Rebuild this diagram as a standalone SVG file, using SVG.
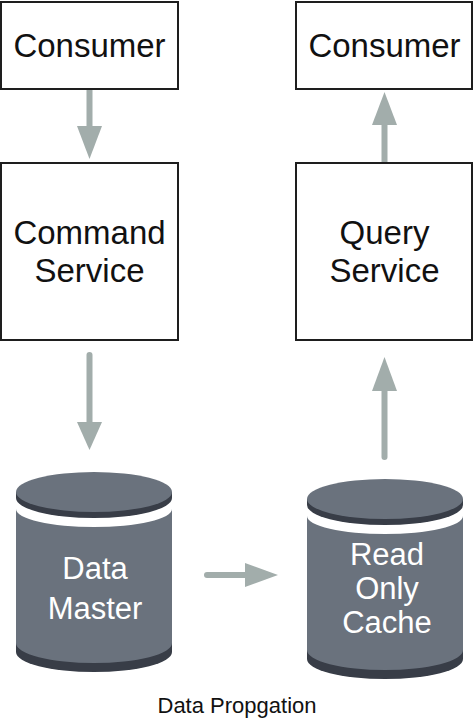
<svg xmlns="http://www.w3.org/2000/svg" xmlns:xlink="http://www.w3.org/1999/xlink" width="474" height="720" viewBox="0 0 474 720">
<style>
.box{fill:#fff;stroke:#1e1e1e;stroke-width:2}
.lbl{font-family:"Liberation Sans",Arial,sans-serif;font-size:33px;fill:#111;text-anchor:middle}
.dbl{font-family:"Liberation Sans",Arial,sans-serif;font-size:31px;fill:#fff;text-anchor:middle}
.cap{font-family:"Liberation Sans",Arial,sans-serif;font-size:22px;fill:#111;text-anchor:middle}
.shaft{stroke:#a2adab;stroke-width:6;stroke-linecap:round;fill:none}
.head{fill:#a2adab}
.light{fill:#6a727d}
.dark{fill:#383d47}
</style>
<defs>
<g id="cyl">
<ellipse class="dark" cx="78" cy="26" rx="78" ry="20"/>
<rect class="dark" x="0" y="20" width="156" height="6"/>
<ellipse class="light" cx="78" cy="20" rx="78" ry="20"/>
<rect class="dark" x="0" y="140" width="156" height="40"/>
<ellipse class="dark" cx="78" cy="180" rx="78" ry="20"/>
<path class="light" d="M0,37 A78,18 0 0 0 156,37 L156,171 A78,20 0 0 1 0,171 Z"/>
</g>
</defs>
<g id="connectors">
<line class="shaft" x1="89.5" y1="90" x2="89.5" y2="128"/>
<polygon class="head" points="77,126 102,126 89.5,159"/>
<line class="shaft" x1="89.5" y1="355" x2="89.5" y2="424"/>
<polygon class="head" points="77,422 102,422 89.5,450"/>
<line class="shaft" x1="384.5" y1="164" x2="384.5" y2="123"/>
<polygon class="head" points="372,125 397,125 384.5,92"/>
<line class="shaft" x1="384.5" y1="457" x2="384.5" y2="389"/>
<polygon class="head" points="372,391 397,391 384.5,357"/>
<line class="shaft" x1="207" y1="575" x2="247" y2="575"/>
<polygon class="head" points="245,563 245,587 278,575"/>
</g>
<g id="consumer-left">
<rect class="box" x="1" y="2" width="177" height="87"/>
<text class="lbl" x="89.5" y="57">Consumer</text>
</g>
<g id="consumer-right">
<rect class="box" x="296" y="2" width="176" height="87"/>
<text class="lbl" x="384.5" y="57">Consumer</text>
</g>
<g id="command-service">
<rect class="box" x="1" y="163" width="177" height="177"/>
<text class="lbl" x="89.5" y="244">Command</text>
<text class="lbl" x="89.5" y="282">Service</text>
</g>
<g id="query-service">
<rect class="box" x="296" y="163" width="176" height="177"/>
<text class="lbl" x="384.5" y="244">Query</text>
<text class="lbl" x="384.5" y="282">Service</text>
</g>
<g id="data-master">
<use xlink:href="#cyl" transform="translate(16,472)"/>
<text class="dbl" x="95" y="579">Data</text>
<text class="dbl" x="95" y="619">Master</text>
</g>
<g id="read-only-cache">
<use xlink:href="#cyl" transform="translate(307,479)"/>
<text class="dbl" x="387" y="565">Read</text>
<text class="dbl" x="387" y="599">Only</text>
<text class="dbl" x="387" y="633">Cache</text>
</g>
<text class="cap" x="237" y="713">Data Propgation</text>
</svg>
